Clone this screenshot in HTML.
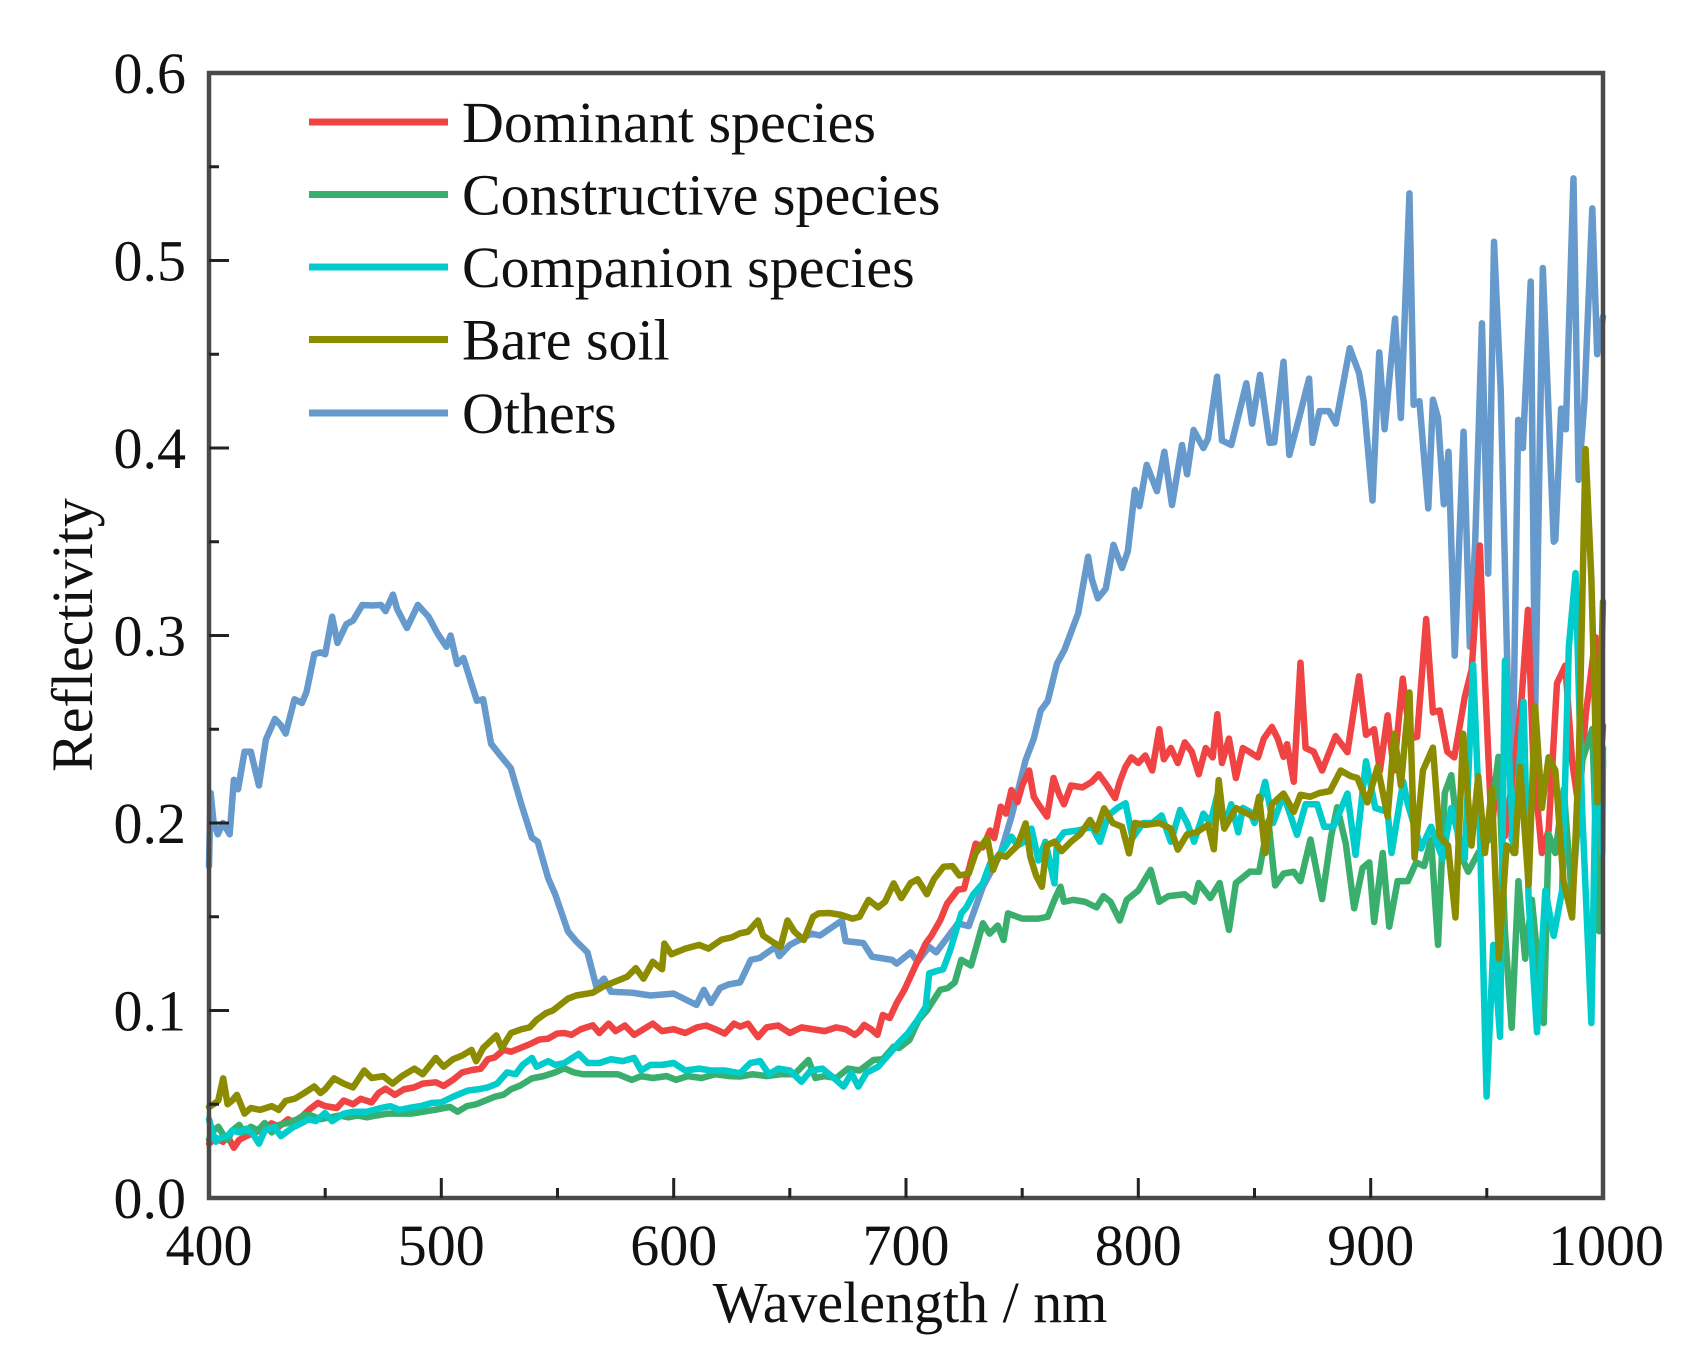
<!DOCTYPE html>
<html><head><meta charset="utf-8"><style>
html,body{margin:0;padding:0;background:#fff;}
svg{display:block;}
text{font-family:"Liberation Serif","Times New Roman",serif;fill:#111;}
</style></head><body>
<svg width="1688" height="1361" viewBox="0 0 1688 1361" xmlns="http://www.w3.org/2000/svg">
<rect width="1688" height="1361" fill="#fff"/>
<g transform="matrix(2.3233 0 0 -1875 -720.32 1198)" fill="none" stroke-linejoin="round" stroke-linecap="round">
<path vector-effect="non-scaling-stroke" stroke="#6699cc" stroke-width="6.5" d="M400 0.177 L400.7 0.216 L402 0.2 L403.8 0.194 L406 0.2 L408.9 0.194 L410.7 0.223 L412.5 0.218 L415.3 0.238 L418 0.238 L421.5 0.22 L424.5 0.2445 L428.4 0.2555 L431 0.252 L433 0.2477 L436.8 0.266 L440 0.264 L442 0.27 L445.3 0.29 L448 0.291 L450 0.29 L453 0.31 L455.3 0.296 L459.1 0.306 L462 0.308 L466 0.3163 L470 0.316 L474 0.3163 L476 0.313 L479.2 0.3218 L481 0.314 L485.2 0.304 L489.9 0.3163 L494.5 0.31 L498.4 0.301 L502.2 0.294 L504 0.3 L506.8 0.2848 L509.5 0.288 L515.3 0.2652 L518 0.266 L521.4 0.2423 L525 0.2366 L529.9 0.2292 L534.5 0.2097 L539 0.1922 L541.5 0.19 L546 0.1705 L549 0.162 L554.5 0.1422 L558 0.137 L562.9 0.131 L566.7 0.1128 L570 0.117 L573 0.11 L582 0.1095 L590 0.108 L600 0.109 L609.8 0.103 L613 0.111 L616 0.104 L620 0.112 L623.6 0.1139 L628.6 0.115 L633.2 0.127 L637 0.128 L643.9 0.134 L645.5 0.129 L650 0.135 L659.3 0.141 L663 0.14 L672.4 0.148 L674 0.137 L681.6 0.136 L685.4 0.1287 L694 0.127 L696 0.125 L702 0.131 L705 0.126 L709.9 0.134 L713 0.131 L722.4 0.1465 L727 0.145 L733.1 0.166 L737.7 0.1767 L740.5 0.183 L745.4 0.2034 L751.5 0.2336 L755 0.245 L758 0.26 L761 0.265 L765 0.285 L768.2 0.2923 L774.1 0.3118 L778.4 0.342 L780 0.33 L782.6 0.3198 L786 0.325 L789.3 0.3483 L793 0.336 L795.5 0.345 L798.5 0.3776 L800.5 0.369 L803.6 0.391 L808 0.377 L811.2 0.398 L814.5 0.3696 L818.8 0.4016 L821 0.386 L823.8 0.4096 L828 0.4 L830 0.405 L833.9 0.438 L836 0.404 L840 0.4016 L846.5 0.4345 L849 0.413 L852.4 0.439 L856.5 0.4027 L858.5 0.403 L862.5 0.446 L865 0.3963 L869 0.415 L873.5 0.437 L875 0.4027 L878 0.4197 L882 0.4197 L885 0.413 L891 0.4532 L895 0.44 L897 0.425 L900.8 0.372 L903.7 0.451 L906 0.41 L910.5 0.469 L913 0.416 L916.7 0.5358 L918.5 0.423 L921 0.425 L924.8 0.3678 L926.8 0.4258 L929 0.416 L931.5 0.37 L933.5 0.398 L936.2 0.2892 L940 0.4087 L942.7 0.294 L945 0.35 L947.9 0.4665 L950.6 0.333 L953.1 0.51 L956 0.43 L958.5 0.3 L960.7 0.1912 L963.5 0.415 L965.5 0.4 L968.9 0.4888 L970.8 0.2574 L974.1 0.496 L978.8 0.35 L979.5 0.351 L982 0.421 L984 0.41 L987.3 0.5438 L989.5 0.383 L992 0.425 L995.4 0.5278 L997.5 0.45 L1000 0.47"/>
<path vector-effect="non-scaling-stroke" stroke="#f04343" stroke-width="6.5" d="M400 0.029 L403 0.032 L406 0.03 L408 0.033 L410.7 0.0268 L413 0.031 L416 0.033 L420 0.035 L424 0.037 L426.9 0.0398 L430 0.038 L434 0.042 L437 0.04 L440.7 0.0443 L443 0.047 L446.9 0.0507 L450 0.049 L455 0.048 L458 0.052 L462 0.05 L465.3 0.0529 L470 0.051 L473 0.056 L476 0.0583 L480 0.055 L484 0.058 L488.3 0.059 L492 0.061 L497.6 0.0617 L501 0.0598 L505 0.063 L509 0.067 L513 0.0682 L517 0.069 L520 0.074 L523 0.075 L526.8 0.079 L530 0.078 L534 0.08 L538 0.082 L542.2 0.0845 L546 0.085 L549.8 0.0877 L553 0.088 L556 0.087 L560 0.09 L565.2 0.0921 L568 0.088 L572 0.093 L575 0.089 L579 0.092 L583 0.087 L587 0.09 L591 0.093 L595 0.089 L600 0.09 L605 0.088 L610 0.091 L614 0.092 L618 0.09 L622 0.0877 L626 0.093 L628.6 0.0914 L632 0.093 L636.3 0.0858 L640 0.091 L645 0.092 L650 0.088 L655 0.091 L660 0.09 L665 0.089 L670 0.091 L674 0.09 L678 0.087 L680 0.089 L682 0.0923 L685 0.09 L687.7 0.087 L690 0.0976 L693 0.096 L696 0.104 L699.3 0.111 L703.9 0.1234 L708.5 0.1358 L711 0.14 L714.7 0.148 L717.7 0.157 L722.3 0.1644 L725 0.165 L727 0.175 L730 0.189 L733 0.187 L736.2 0.196 L738 0.192 L740.8 0.2087 L743 0.205 L745.4 0.2176 L748 0.2112 L750 0.22 L753 0.228 L755 0.214 L757 0.21 L760.7 0.2034 L763.5 0.224 L766 0.215 L768 0.21 L771 0.22 L776 0.219 L780 0.222 L783 0.226 L786.5 0.22 L790 0.2133 L792 0.222 L794.5 0.23 L797 0.235 L800 0.232 L803 0.236 L806 0.228 L809 0.25 L811 0.234 L814 0.24 L817 0.232 L820 0.243 L823 0.238 L826 0.226 L829 0.24 L832 0.235 L834 0.258 L836 0.232 L839 0.245 L842 0.224 L845 0.24 L848 0.2378 L851.5 0.235 L854 0.245 L857.5 0.2512 L860 0.245 L862.5 0.2353 L864 0.242 L866.9 0.222 L869.8 0.2855 L872 0.24 L875.5 0.238 L879.1 0.228 L884.9 0.2463 L890 0.2378 L895 0.2782 L898 0.247 L901.5 0.25 L904 0.228 L907.3 0.2574 L910 0.228 L913.8 0.277 L917 0.245 L920 0.246 L923.9 0.3088 L926.8 0.259 L929.7 0.26 L933 0.238 L936 0.235 L940.5 0.2672 L943.5 0.282 L947 0.348 L949 0.282 L952.1 0.196 L955 0.232 L957.8 0.193 L962 0.232 L965 0.267 L967.7 0.3137 L970 0.233 L973.7 0.184 L976.6 0.196 L980.2 0.2745 L983.8 0.284 L986.7 0.233 L989.6 0.208 L992.5 0.257 L996.8 0.299 L999.7 0.245 L1000 0.252"/>
<path vector-effect="non-scaling-stroke" stroke="#3aae6c" stroke-width="6.5" d="M400 0.0311 L402 0.036 L404 0.038 L406 0.034 L408 0.031 L410 0.036 L413 0.039 L415 0.035 L418 0.038 L421 0.036 L424 0.04 L427 0.035 L430 0.039 L434 0.04 L438 0.042 L441 0.0443 L444 0.044 L448 0.042 L452 0.043 L456 0.044 L460 0.043 L464 0.044 L468 0.043 L472 0.044 L477 0.045 L482 0.045 L487 0.045 L492 0.046 L497 0.047 L503.7 0.0486 L507 0.046 L511 0.049 L515 0.05 L519 0.052 L523 0.054 L526.8 0.0551 L530 0.058 L534 0.06 L539 0.0638 L544 0.065 L549 0.067 L552.9 0.0692 L557 0.067 L561 0.066 L566 0.066 L571 0.066 L576 0.066 L582 0.063 L586 0.065 L591 0.064 L597 0.065 L601 0.063 L606 0.065 L612 0.064 L618 0.066 L624 0.065 L628.6 0.0648 L634 0.066 L640 0.065 L646 0.066 L652 0.066 L658 0.0736 L661 0.064 L665 0.065 L670 0.064 L675 0.069 L680 0.068 L686 0.0736 L690 0.074 L694.7 0.0807 L697 0.08 L701.5 0.0843 L705.4 0.0949 L709 0.1 L714.7 0.111 L718 0.112 L721 0.115 L723.8 0.127 L728 0.124 L733.1 0.1465 L736 0.141 L739.5 0.1453 L742 0.1376 L743.9 0.1518 L750 0.149 L757 0.149 L761 0.15 L763.9 0.159 L766.5 0.166 L768 0.158 L772 0.159 L777 0.158 L782 0.155 L785 0.161 L788 0.158 L792 0.148 L795 0.159 L800 0.164 L805.3 0.175 L809 0.158 L813 0.161 L820 0.162 L824 0.158 L826 0.168 L831 0.16 L835 0.168 L839 0.143 L842 0.168 L848.1 0.1741 L852 0.174 L856 0.2011 L858.9 0.1667 L862.5 0.173 L866.9 0.174 L869.8 0.169 L874.1 0.1912 L879.1 0.1594 L883 0.193 L885.6 0.2084 L889.3 0.189 L892.9 0.1545 L896.5 0.176 L899.4 0.179 L901.5 0.1472 L905.2 0.184 L908 0.1447 L911.6 0.169 L916 0.169 L919.6 0.179 L923 0.177 L926 0.191 L929 0.135 L931.9 0.216 L934.7 0.2255 L938.4 0.184 L942 0.174 L946.3 0.184 L950.6 0.191 L955 0.2353 L957.8 0.142 L960.7 0.0908 L963.6 0.169 L966.5 0.1276 L969.4 0.159 L974.5 0.0933 L976.6 0.194 L979.5 0.184 L983.1 0.218 L986.7 0.159 L991 0.233 L995.4 0.2501 L998.3 0.1423 L1000 0.233"/>
<path vector-effect="non-scaling-stroke" stroke="#00cccc" stroke-width="6.5" d="M400 0.042 L401.5 0.035 L403 0.03 L405 0.032 L408 0.033 L410 0.036 L413 0.035 L416 0.037 L419 0.034 L421.5 0.029 L424 0.036 L428 0.038 L431 0.033 L436.1 0.0377 L440 0.04 L443 0.042 L446 0.041 L449.9 0.0453 L453 0.041 L458 0.045 L462 0.046 L468 0.046 L474 0.048 L478 0.049 L482 0.047 L486 0.048 L491 0.049 L496 0.0507 L500 0.051 L505 0.054 L511.4 0.0573 L516 0.058 L520 0.059 L524 0.061 L528.3 0.067 L532 0.066 L535 0.071 L539 0.0747 L541 0.07 L546 0.073 L549 0.071 L553 0.072 L559.1 0.0769 L563 0.072 L568 0.072 L573 0.074 L578 0.073 L583 0.0747 L586 0.068 L590 0.071 L595 0.071 L600 0.072 L605 0.068 L611 0.069 L616 0.068 L622 0.068 L628.6 0.0665 L633 0.072 L637.2 0.073 L641 0.066 L645 0.069 L650 0.068 L655 0.062 L659 0.068 L664 0.069 L668 0.065 L673.1 0.0594 L676.5 0.0665 L679.5 0.0594 L683 0.0668 L688 0.07 L693.1 0.0772 L697 0.083 L700.8 0.0878 L705 0.095 L708.5 0.102 L710 0.1198 L713 0.121 L716 0.122 L719 0.132 L723.8 0.1518 L726 0.155 L729 0.162 L733 0.1677 L736.2 0.1785 L738 0.18 L742.5 0.187 L745.4 0.1927 L748 0.188 L751 0.19 L754 0.197 L757 0.18 L760 0.19 L763.9 0.1678 L765 0.19 L768 0.195 L774 0.196 L780 0.198 L783.5 0.19 L786 0.2 L788 0.205 L791 0.208 L794.5 0.2105 L797.5 0.192 L802 0.2 L806 0.2 L810 0.204 L814 0.19 L818 0.207 L821 0.2 L824 0.19 L828 0.205 L831 0.2 L834 0.215 L837 0.198 L840 0.21 L843 0.195 L845 0.208 L848 0.206 L850 0.2 L854.6 0.2219 L858 0.2 L862.5 0.215 L868.3 0.1937 L872 0.21 L877 0.21 L880 0.198 L884 0.198 L890 0.2157 L893.5 0.183 L898 0.2329 L902 0.208 L907.3 0.206 L909 0.184 L914 0.222 L916 0.21 L921.7 0.1864 L926 0.198 L931 0.181 L934.7 0.208 L940.5 0.181 L944.1 0.2843 L947 0.196 L949.9 0.0541 L952.8 0.135 L955.7 0.086 L957.8 0.2867 L961.5 0.184 L965.8 0.2647 L968 0.159 L971.6 0.0884 L975.2 0.164 L978.8 0.1398 L982.4 0.164 L985.3 0.294 L988.2 0.3333 L991 0.208 L995 0.0933 L997.6 0.275 L999.7 0.184 L1000 0.24"/>
<path vector-effect="non-scaling-stroke" stroke="#8c8c00" stroke-width="6.5" d="M400 0.0486 L402 0.05 L404 0.052 L406.1 0.0638 L408 0.05 L410 0.052 L412 0.055 L415.3 0.045 L418 0.048 L422 0.047 L427 0.049 L430 0.047 L433 0.0518 L437 0.053 L441 0.056 L445.3 0.0595 L448 0.056 L450 0.058 L453.8 0.0638 L458 0.061 L462 0.059 L466.8 0.068 L470 0.064 L475 0.065 L479 0.061 L483 0.065 L488.4 0.069 L492 0.066 L497.6 0.0747 L501 0.07 L505 0.074 L509 0.076 L513 0.079 L515 0.073 L518 0.08 L523.7 0.0867 L526 0.08 L530 0.088 L534.5 0.09 L538 0.091 L541 0.095 L545.2 0.0987 L548 0.1 L554.5 0.1063 L558 0.108 L565.2 0.1095 L570 0.113 L576 0.116 L580 0.118 L583.7 0.1226 L587 0.117 L591 0.126 L595 0.122 L596 0.1357 L599 0.13 L605 0.133 L611 0.135 L615 0.133 L620.6 0.1378 L625 0.139 L628.6 0.1412 L632 0.142 L636.3 0.148 L638.5 0.14 L642 0.137 L646 0.134 L649 0.148 L652 0.142 L656 0.1376 L660 0.15 L662.4 0.1518 L667 0.152 L672 0.151 L677 0.149 L680 0.15 L683.9 0.159 L688 0.155 L691 0.158 L694.7 0.1678 L698 0.16 L702 0.168 L705 0.17 L709 0.162 L712 0.17 L716.2 0.1767 L720 0.177 L723 0.172 L727 0.173 L730 0.184 L733.1 0.189 L735 0.192 L737.5 0.175 L740 0.183 L743 0.182 L748 0.188 L751.5 0.1998 L753.5 0.182 L756 0.172 L758.5 0.166 L760.5 0.188 L764 0.19 L767 0.185 L771 0.19 L775 0.194 L779.2 0.2016 L782 0.196 L785.3 0.2078 L789 0.2 L793 0.198 L796 0.1838 L798.5 0.2 L803 0.199 L809 0.2 L814 0.197 L817 0.1858 L821 0.194 L825 0.195 L830 0.199 L832.5 0.186 L834.6 0.2229 L837 0.197 L842 0.208 L847 0.205 L850 0.203 L852 0.214 L854.6 0.184 L857.5 0.21 L862.5 0.2157 L866.9 0.206 L869.8 0.215 L874 0.214 L878 0.216 L882.5 0.217 L887.1 0.228 L891.4 0.225 L894.3 0.224 L898.6 0.211 L903 0.23 L907.3 0.2035 L910.2 0.2476 L913 0.22 L916.7 0.2696 L918.9 0.1814 L922.5 0.228 L926.8 0.2402 L929.7 0.193 L933.3 0.188 L936.5 0.1496 L939.8 0.2476 L943.4 0.188 L946.3 0.225 L949.2 0.184 L952.1 0.218 L955.2 0.1276 L958.5 0.188 L962.2 0.184 L964.3 0.23 L968 0.1668 L970.8 0.2623 L973.7 0.208 L976.6 0.235 L979.5 0.228 L983 0.169 L986.7 0.1496 L989.6 0.233 L992.5 0.3994 L995 0.33 L997.6 0.211 L1000 0.318"/>
</g>
<!-- frame -->
<rect x="209" y="73" width="1394" height="1125" fill="none" stroke="#4a4a4a" stroke-width="4.5"/>
<!-- ticks -->
<g stroke="#222" stroke-width="3">
<path d="M441.3 1198V1178M673.7 1198V1178M906 1198V1178M1138.3 1198V1178M1370.7 1198V1178"/>
<path d="M325.2 1198V1188M557.5 1198V1188M789.8 1198V1188M1022.2 1198V1188M1254.5 1198V1188M1486.8 1198V1188"/>
<path d="M209 1010.5H229M209 823H229M209 635.5H229M209 448H229M209 260.5H229"/>
<path d="M209 1104.25H219M209 916.75H219M209 729.25H219M209 541.75H219M209 354.25H219M209 166.75H219"/>
</g>
<!-- tick labels -->
<g font-size="58" text-anchor="end">
<text x="186" y="1218">0.0</text>
<text x="186" y="1030.5">0.1</text>
<text x="186" y="843">0.2</text>
<text x="186" y="655.5">0.3</text>
<text x="186" y="468">0.4</text>
<text x="186" y="280.5">0.5</text>
<text x="186" y="93">0.6</text>
</g>
<g font-size="58" text-anchor="middle">
<text x="209" y="1265">400</text>
<text x="441.3" y="1265">500</text>
<text x="673.7" y="1265">600</text>
<text x="906" y="1265">700</text>
<text x="1138.3" y="1265">800</text>
<text x="1370.7" y="1265">900</text>
<text x="1606" y="1265">1000</text>
</g>
<text x="910" y="1322" font-size="58" text-anchor="middle">Wavelength / nm</text>
<text transform="translate(92,635) rotate(-90)" font-size="58" text-anchor="middle">Reflectivity</text>
<!-- legend -->
<g stroke-width="7" stroke-linecap="butt">
<line x1="309" y1="122" x2="448" y2="122" stroke="#f04343"/>
<line x1="309" y1="194.5" x2="448" y2="194.5" stroke="#3aae6c"/>
<line x1="309" y1="267" x2="448" y2="267" stroke="#00cccc"/>
<line x1="309" y1="339.5" x2="448" y2="339.5" stroke="#8c8c00"/>
<line x1="309" y1="413" x2="448" y2="413" stroke="#6699cc"/>
</g>
<g font-size="58">
<text x="462" y="142">Dominant species</text>
<text x="462" y="214.5">Constructive species</text>
<text x="462" y="287">Companion species</text>
<text x="462" y="359.5">Bare soil</text>
<text x="462" y="433">Others</text>
</g>
</svg>
</body></html>
